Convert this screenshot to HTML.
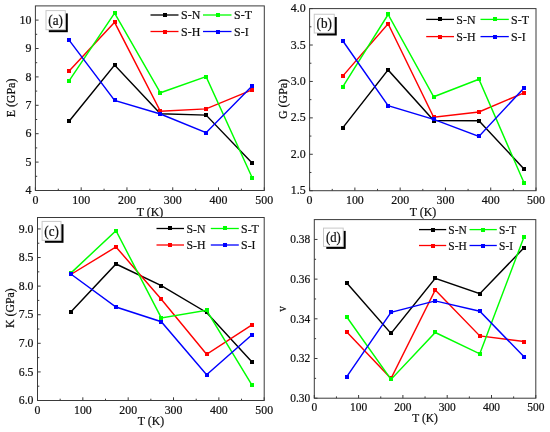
<!DOCTYPE html>
<html><head><meta charset="utf-8"><style>
html,body{margin:0;padding:0;background:#fff;}
svg{display:block;will-change:transform;filter:blur(0.3px);}
text{font-family:"Liberation Serif", serif;font-size:12.3px;fill:#111;stroke:#111;stroke-width:0.22px;}
</style></head><body>
<svg width="550" height="432" viewBox="0 0 550 432">
<rect width="550" height="432" fill="#fff"/>
<rect x="35.4" y="5.9" width="228.9" height="184.6" fill="none" stroke="#3a3a3a" stroke-width="1.0"/>
<path d="M35.4 190.5v-3.2 M81.18 190.5v-3.2 M126.96 190.5v-3.2 M172.74 190.5v-3.2 M218.52 190.5v-3.2 M264.3 190.5v-3.2 M58.29 190.5v-1.8 M104.07 190.5v-1.8 M149.85 190.5v-1.8 M195.63 190.5v-1.8 M241.41 190.5v-1.8 M35.4 190.5h3.2 M35.4 162.1h3.2 M35.4 133.7h3.2 M35.4 105.3h3.2 M35.4 76.9h3.2 M35.4 48.5h3.2 M35.4 20.1h3.2 M35.4 176.3h1.8 M35.4 147.9h1.8 M35.4 119.5h1.8 M35.4 91.1h1.8 M35.4 62.7h1.8 M35.4 34.3h1.8" stroke="#3a3a3a" stroke-width="1" fill="none"/>
<text transform="translate(35.4 204) scale(0.97 1)" text-anchor="middle">0</text>
<text transform="translate(81.18 204) scale(0.97 1)" text-anchor="middle">100</text>
<text transform="translate(126.96 204) scale(0.97 1)" text-anchor="middle">200</text>
<text transform="translate(172.74 204) scale(0.97 1)" text-anchor="middle">300</text>
<text transform="translate(218.52 204) scale(0.97 1)" text-anchor="middle">400</text>
<text transform="translate(264.3 204) scale(0.97 1)" text-anchor="middle">500</text>
<text transform="translate(31.4 194.25) scale(0.97 1)" text-anchor="end">4</text>
<text transform="translate(31.4 165.85) scale(0.97 1)" text-anchor="end">5</text>
<text transform="translate(31.4 137.45) scale(0.97 1)" text-anchor="end">6</text>
<text transform="translate(31.4 109.05) scale(0.97 1)" text-anchor="end">7</text>
<text transform="translate(31.4 80.65) scale(0.97 1)" text-anchor="end">8</text>
<text transform="translate(31.4 52.25) scale(0.97 1)" text-anchor="end">9</text>
<text transform="translate(31.4 23.85) scale(0.97 1)" text-anchor="end">10</text>
<text transform="translate(150 215.5) scale(0.97 1)" text-anchor="middle">T (K)</text>
<text transform="translate(15 98) rotate(-90) scale(0.97 1)" text-anchor="middle">E (GPa)</text>
<polyline points="68.9,121.45 114.6,65 160.4,113.8 206.1,115.1 252.1,163.1" fill="none" stroke="#000000" stroke-width="1.45" stroke-linejoin="miter"/>
<rect x="67" y="119" width="4" height="4" fill="#000000"/>
<rect x="113" y="63" width="4" height="4" fill="#000000"/>
<rect x="158" y="112" width="4" height="4" fill="#000000"/>
<rect x="204" y="113" width="4" height="4" fill="#000000"/>
<rect x="250" y="161" width="4" height="4" fill="#000000"/>
<polyline points="68.9,71.35 114.6,22.3 160.4,111.3 206.1,108.85 252.1,89.9" fill="none" stroke="#ff0000" stroke-width="1.45" stroke-linejoin="miter"/>
<rect x="67" y="69" width="4" height="4" fill="#ff0000"/>
<rect x="113" y="20" width="4" height="4" fill="#ff0000"/>
<rect x="158" y="109" width="4" height="4" fill="#ff0000"/>
<rect x="204" y="107" width="4" height="4" fill="#ff0000"/>
<rect x="250" y="88" width="4" height="4" fill="#ff0000"/>
<polyline points="68.9,81.1 114.6,13.2 160.4,92.75 206.1,76.6 252.1,177.55" fill="none" stroke="#00ff00" stroke-width="1.45" stroke-linejoin="miter"/>
<rect x="67" y="79" width="4" height="4" fill="#00ff00"/>
<rect x="113" y="11" width="4" height="4" fill="#00ff00"/>
<rect x="158" y="91" width="4" height="4" fill="#00ff00"/>
<rect x="204" y="75" width="4" height="4" fill="#00ff00"/>
<rect x="250" y="176" width="4" height="4" fill="#00ff00"/>
<polyline points="68.9,39.85 114.6,100.45 160.4,114 206.1,132.75 252.1,85.9" fill="none" stroke="#0000ff" stroke-width="1.45" stroke-linejoin="miter"/>
<rect x="67" y="38" width="4" height="4" fill="#0000ff"/>
<rect x="113" y="98" width="4" height="4" fill="#0000ff"/>
<rect x="158" y="112" width="4" height="4" fill="#0000ff"/>
<rect x="204" y="131" width="4" height="4" fill="#0000ff"/>
<rect x="250" y="84" width="4" height="4" fill="#0000ff"/>
<path d="M150.5 15H178.5" stroke="#000000" stroke-width="1.3"/>
<rect x="163" y="13" width="4" height="4" fill="#000000"/>
<text transform="translate(181.1 19.2) scale(0.97 1)">S-N</text>
<path d="M203 15H231.5" stroke="#00ff00" stroke-width="1.3"/>
<rect x="216" y="13" width="4" height="4" fill="#00ff00"/>
<text transform="translate(234.1 19.2) scale(0.97 1)">S-T</text>
<path d="M150.5 31.5H178.5" stroke="#ff0000" stroke-width="1.3"/>
<rect x="163" y="30" width="4" height="4" fill="#ff0000"/>
<text transform="translate(181.1 35.7) scale(0.97 1)">S-H</text>
<path d="M203 31.5H231.5" stroke="#0000ff" stroke-width="1.3"/>
<rect x="216" y="30" width="4" height="4" fill="#0000ff"/>
<text transform="translate(234.1 35.7) scale(0.97 1)">S-I</text>
<rect x="48.8" y="13.4" width="19" height="18.8" fill="#000"/>
<rect x="46" y="10.6" width="19.3" height="19.1" fill="#fff" stroke="#c8c8c8" stroke-width="1"/>
<text transform="translate(55.65 25.1) scale(0.97 1)" text-anchor="middle" style="font-size:13.6px">(a)</text>
<rect x="309.6" y="8.6" width="226.4" height="182.1" fill="none" stroke="#3a3a3a" stroke-width="1.0"/>
<path d="M309.6 190.7v-3.2 M354.88 190.7v-3.2 M400.16 190.7v-3.2 M445.44 190.7v-3.2 M490.72 190.7v-3.2 M536 190.7v-3.2 M332.24 190.7v-1.8 M377.52 190.7v-1.8 M422.8 190.7v-1.8 M468.08 190.7v-1.8 M513.36 190.7v-1.8 M309.6 190.7h3.2 M309.6 154.28h3.2 M309.6 117.86h3.2 M309.6 81.44h3.2 M309.6 45.02h3.2 M309.6 8.6h3.2 M309.6 172.49h1.8 M309.6 136.07h1.8 M309.6 99.65h1.8 M309.6 63.23h1.8 M309.6 26.81h1.8" stroke="#3a3a3a" stroke-width="1" fill="none"/>
<text transform="translate(309.6 203.9) scale(0.97 1)" text-anchor="middle">0</text>
<text transform="translate(354.88 203.9) scale(0.97 1)" text-anchor="middle">100</text>
<text transform="translate(400.16 203.9) scale(0.97 1)" text-anchor="middle">200</text>
<text transform="translate(445.44 203.9) scale(0.97 1)" text-anchor="middle">300</text>
<text transform="translate(490.72 203.9) scale(0.97 1)" text-anchor="middle">400</text>
<text transform="translate(536 203.9) scale(0.97 1)" text-anchor="middle">500</text>
<text transform="translate(305.6 194.3) scale(0.97 1)" text-anchor="end">1.5</text>
<text transform="translate(305.6 157.88) scale(0.97 1)" text-anchor="end">2.0</text>
<text transform="translate(305.6 121.46) scale(0.97 1)" text-anchor="end">2.5</text>
<text transform="translate(305.6 85.04) scale(0.97 1)" text-anchor="end">3.0</text>
<text transform="translate(305.6 48.62) scale(0.97 1)" text-anchor="end">3.5</text>
<text transform="translate(305.6 12.2) scale(0.97 1)" text-anchor="end">4.0</text>
<text transform="translate(423 215.5) scale(0.97 1)" text-anchor="middle">T (K)</text>
<text transform="translate(287 99) rotate(-90) scale(0.97 1)" text-anchor="middle">G (GPa)</text>
<polyline points="342.9,127.6 388.1,69.9 433.7,120.6 478.9,120.8 524,169" fill="none" stroke="#000000" stroke-width="1.45" stroke-linejoin="miter"/>
<rect x="341" y="126" width="4" height="4" fill="#000000"/>
<rect x="386" y="68" width="4" height="4" fill="#000000"/>
<rect x="432" y="119" width="4" height="4" fill="#000000"/>
<rect x="477" y="119" width="4" height="4" fill="#000000"/>
<rect x="522" y="167" width="4" height="4" fill="#000000"/>
<polyline points="342.9,75.9 388.1,23.7 433.7,117.3 478.9,112 524,92.8" fill="none" stroke="#ff0000" stroke-width="1.45" stroke-linejoin="miter"/>
<rect x="341" y="74" width="4" height="4" fill="#ff0000"/>
<rect x="386" y="22" width="4" height="4" fill="#ff0000"/>
<rect x="432" y="115" width="4" height="4" fill="#ff0000"/>
<rect x="477" y="110" width="4" height="4" fill="#ff0000"/>
<rect x="522" y="91" width="4" height="4" fill="#ff0000"/>
<polyline points="342.9,86.7 388.1,14.5 433.7,96.8 478.9,79.25 524,182.7" fill="none" stroke="#00ff00" stroke-width="1.45" stroke-linejoin="miter"/>
<rect x="341" y="85" width="4" height="4" fill="#00ff00"/>
<rect x="386" y="12" width="4" height="4" fill="#00ff00"/>
<rect x="432" y="95" width="4" height="4" fill="#00ff00"/>
<rect x="477" y="77" width="4" height="4" fill="#00ff00"/>
<rect x="522" y="181" width="4" height="4" fill="#00ff00"/>
<polyline points="342.9,41 388.1,105.6 433.7,119.4 478.9,136.5 524,87.95" fill="none" stroke="#0000ff" stroke-width="1.45" stroke-linejoin="miter"/>
<rect x="341" y="39" width="4" height="4" fill="#0000ff"/>
<rect x="386" y="104" width="4" height="4" fill="#0000ff"/>
<rect x="432" y="117" width="4" height="4" fill="#0000ff"/>
<rect x="477" y="134" width="4" height="4" fill="#0000ff"/>
<rect x="522" y="86" width="4" height="4" fill="#0000ff"/>
<path d="M426.2 19.4H454" stroke="#000000" stroke-width="1.3"/>
<rect x="438" y="17" width="4" height="4" fill="#000000"/>
<text transform="translate(456.3 23.6) scale(0.97 1)">S-N</text>
<path d="M480.5 19.4H508.8" stroke="#00ff00" stroke-width="1.3"/>
<rect x="493" y="17" width="4" height="4" fill="#00ff00"/>
<text transform="translate(511.1 23.6) scale(0.97 1)">S-T</text>
<path d="M426.2 36.6H454" stroke="#ff0000" stroke-width="1.3"/>
<rect x="438" y="35" width="4" height="4" fill="#ff0000"/>
<text transform="translate(456.3 40.8) scale(0.97 1)">S-H</text>
<path d="M480.5 36.6H508.8" stroke="#0000ff" stroke-width="1.3"/>
<rect x="493" y="35" width="4" height="4" fill="#0000ff"/>
<text transform="translate(511.1 40.8) scale(0.97 1)">S-I</text>
<rect x="317.05" y="17.05" width="19.7" height="18.45" fill="#000"/>
<rect x="314.25" y="14.25" width="20" height="18.75" fill="#fff" stroke="#c8c8c8" stroke-width="1"/>
<text transform="translate(324.25 28.4) scale(0.97 1)" text-anchor="middle" style="font-size:13.6px">(b)</text>
<rect x="0" y="217" width="275" height="215" fill="#fff"/>
<rect x="37.5" y="217.5" width="226.7" height="183" fill="none" stroke="#3a3a3a" stroke-width="1.0"/>
<path d="M37.5 400.5v-3.2 M82.84 400.5v-3.2 M128.18 400.5v-3.2 M173.52 400.5v-3.2 M218.86 400.5v-3.2 M264.2 400.5v-3.2 M60.17 400.5v-1.8 M105.51 400.5v-1.8 M150.85 400.5v-1.8 M196.19 400.5v-1.8 M241.53 400.5v-1.8 M37.5 400.5h3.2 M37.5 371.91h3.2 M37.5 343.31h3.2 M37.5 314.72h3.2 M37.5 286.12h3.2 M37.5 257.53h3.2 M37.5 228.94h3.2 M37.5 386.2h1.8 M37.5 357.61h1.8 M37.5 329.02h1.8 M37.5 300.42h1.8 M37.5 271.83h1.8 M37.5 243.23h1.8" stroke="#3a3a3a" stroke-width="1" fill="none"/>
<text transform="translate(37.5 413.6) scale(0.96 1)" text-anchor="middle">0</text>
<text transform="translate(82.84 413.6) scale(0.96 1)" text-anchor="middle">100</text>
<text transform="translate(128.18 413.6) scale(0.96 1)" text-anchor="middle">200</text>
<text transform="translate(173.52 413.6) scale(0.96 1)" text-anchor="middle">300</text>
<text transform="translate(218.86 413.6) scale(0.96 1)" text-anchor="middle">400</text>
<text transform="translate(264.2 413.6) scale(0.96 1)" text-anchor="middle">500</text>
<text transform="translate(33.5 404.25) scale(0.96 1)" text-anchor="end">6.0</text>
<text transform="translate(33.5 375.66) scale(0.96 1)" text-anchor="end">6.5</text>
<text transform="translate(33.5 347.06) scale(0.96 1)" text-anchor="end">7.0</text>
<text transform="translate(33.5 318.47) scale(0.96 1)" text-anchor="end">7.5</text>
<text transform="translate(33.5 289.88) scale(0.96 1)" text-anchor="end">8.0</text>
<text transform="translate(33.5 261.28) scale(0.96 1)" text-anchor="end">8.5</text>
<text transform="translate(33.5 232.69) scale(0.96 1)" text-anchor="end">9.0</text>
<text transform="translate(151 425) scale(0.96 1)" text-anchor="middle">T (K)</text>
<text transform="translate(14 308.2) rotate(-90) scale(0.96 1)" text-anchor="middle">K (GPa)</text>
<polyline points="70.8,311.9 116,264 161.3,285.7 206.6,312.5 252,362" fill="none" stroke="#000000" stroke-width="1.45" stroke-linejoin="miter"/>
<rect x="69" y="310" width="4" height="4" fill="#000000"/>
<rect x="114" y="262" width="4" height="4" fill="#000000"/>
<rect x="159" y="284" width="4" height="4" fill="#000000"/>
<rect x="205" y="310" width="4" height="4" fill="#000000"/>
<rect x="250" y="360" width="4" height="4" fill="#000000"/>
<polyline points="70.8,274.5 116,246.95 161.3,299.2 206.6,354.25 252,324.9" fill="none" stroke="#ff0000" stroke-width="1.45" stroke-linejoin="miter"/>
<rect x="69" y="272" width="4" height="4" fill="#ff0000"/>
<rect x="114" y="245" width="4" height="4" fill="#ff0000"/>
<rect x="159" y="297" width="4" height="4" fill="#ff0000"/>
<rect x="205" y="352" width="4" height="4" fill="#ff0000"/>
<rect x="250" y="323" width="4" height="4" fill="#ff0000"/>
<polyline points="70.8,273.1 116,230.65 161.3,317.9 206.6,310.4 252,385.2" fill="none" stroke="#00ff00" stroke-width="1.45" stroke-linejoin="miter"/>
<rect x="69" y="271" width="4" height="4" fill="#00ff00"/>
<rect x="114" y="229" width="4" height="4" fill="#00ff00"/>
<rect x="159" y="316" width="4" height="4" fill="#00ff00"/>
<rect x="205" y="308" width="4" height="4" fill="#00ff00"/>
<rect x="250" y="383" width="4" height="4" fill="#00ff00"/>
<polyline points="70.8,274 116,307 161.3,321.7 206.6,374.7 252,334.7" fill="none" stroke="#0000ff" stroke-width="1.45" stroke-linejoin="miter"/>
<rect x="69" y="272" width="4" height="4" fill="#0000ff"/>
<rect x="114" y="305" width="4" height="4" fill="#0000ff"/>
<rect x="159" y="320" width="4" height="4" fill="#0000ff"/>
<rect x="205" y="373" width="4" height="4" fill="#0000ff"/>
<rect x="250" y="333" width="4" height="4" fill="#0000ff"/>
<path d="M156.5 228.5H184" stroke="#000000" stroke-width="1.3"/>
<rect x="168" y="226" width="4" height="4" fill="#000000"/>
<text transform="translate(186.5 232.7) scale(0.96 1)">S-N</text>
<path d="M210.8 228.5H238.8" stroke="#00ff00" stroke-width="1.3"/>
<rect x="223" y="226" width="4" height="4" fill="#00ff00"/>
<text transform="translate(241.1 232.7) scale(0.96 1)">S-T</text>
<path d="M156.5 245H184" stroke="#ff0000" stroke-width="1.3"/>
<rect x="168" y="243" width="4" height="4" fill="#ff0000"/>
<text transform="translate(186.5 249.2) scale(0.96 1)">S-H</text>
<path d="M210.8 245H238.8" stroke="#0000ff" stroke-width="1.3"/>
<rect x="223" y="243" width="4" height="4" fill="#0000ff"/>
<text transform="translate(241.1 249.2) scale(0.96 1)">S-I</text>
<rect x="44.9" y="224.2" width="18.6" height="18.6" fill="#000"/>
<rect x="42.1" y="221.4" width="18.9" height="18.9" fill="#fff" stroke="#c8c8c8" stroke-width="1"/>
<text transform="translate(51.55 235.7) scale(0.96 1)" text-anchor="middle" style="font-size:13.6px">(c)</text>
<rect x="314.3" y="219.6" width="221.5" height="178.6" fill="none" stroke="#3a3a3a" stroke-width="1.0"/>
<path d="M314.3 398.2v-3.2 M358.6 398.2v-3.2 M402.9 398.2v-3.2 M447.2 398.2v-3.2 M491.5 398.2v-3.2 M535.8 398.2v-3.2 M336.45 398.2v-1.8 M380.75 398.2v-1.8 M425.05 398.2v-1.8 M469.35 398.2v-1.8 M513.65 398.2v-1.8 M314.3 398.2h3.2 M314.3 358.51h3.2 M314.3 318.82h3.2 M314.3 279.13h3.2 M314.3 239.44h3.2 M314.3 378.36h1.8 M314.3 338.67h1.8 M314.3 298.98h1.8 M314.3 259.29h1.8" stroke="#3a3a3a" stroke-width="1" fill="none"/>
<text transform="translate(314.3 411.3) scale(0.93 1)" text-anchor="middle">0</text>
<text transform="translate(358.6 411.3) scale(0.93 1)" text-anchor="middle">100</text>
<text transform="translate(402.9 411.3) scale(0.93 1)" text-anchor="middle">200</text>
<text transform="translate(447.2 411.3) scale(0.93 1)" text-anchor="middle">300</text>
<text transform="translate(491.5 411.3) scale(0.93 1)" text-anchor="middle">400</text>
<text transform="translate(535.8 411.3) scale(0.93 1)" text-anchor="middle">500</text>
<text transform="translate(310.3 401.95) scale(0.93 1)" text-anchor="end">0.30</text>
<text transform="translate(310.3 362.26) scale(0.93 1)" text-anchor="end">0.32</text>
<text transform="translate(310.3 322.57) scale(0.93 1)" text-anchor="end">0.34</text>
<text transform="translate(310.3 282.88) scale(0.93 1)" text-anchor="end">0.36</text>
<text transform="translate(310.3 243.19) scale(0.93 1)" text-anchor="end">0.38</text>
<text transform="translate(425 422) scale(0.93 1)" text-anchor="middle">T (K)</text>
<text transform="translate(285.8 309) rotate(-90) scale(0.93 1)" text-anchor="middle">v</text>
<polyline points="346.8,283 391,333.4 435.25,278.25 479.8,293.75 524,247.8" fill="none" stroke="#000000" stroke-width="1.45" stroke-linejoin="miter"/>
<rect x="345" y="281" width="4" height="4" fill="#000000"/>
<rect x="389" y="331" width="4" height="4" fill="#000000"/>
<rect x="433" y="276" width="4" height="4" fill="#000000"/>
<rect x="478" y="292" width="4" height="4" fill="#000000"/>
<rect x="522" y="246" width="4" height="4" fill="#000000"/>
<polyline points="346.8,332 391,378.5 435.25,290.05 479.8,335.9 524,341.5" fill="none" stroke="#ff0000" stroke-width="1.45" stroke-linejoin="miter"/>
<rect x="345" y="330" width="4" height="4" fill="#ff0000"/>
<rect x="389" y="376" width="4" height="4" fill="#ff0000"/>
<rect x="433" y="288" width="4" height="4" fill="#ff0000"/>
<rect x="478" y="334" width="4" height="4" fill="#ff0000"/>
<rect x="522" y="340" width="4" height="4" fill="#ff0000"/>
<polyline points="346.8,317 391,379.4 435.25,332.5 479.8,353.8 524,236.95" fill="none" stroke="#00ff00" stroke-width="1.45" stroke-linejoin="miter"/>
<rect x="345" y="315" width="4" height="4" fill="#00ff00"/>
<rect x="389" y="377" width="4" height="4" fill="#00ff00"/>
<rect x="433" y="330" width="4" height="4" fill="#00ff00"/>
<rect x="478" y="352" width="4" height="4" fill="#00ff00"/>
<rect x="522" y="235" width="4" height="4" fill="#00ff00"/>
<polyline points="346.8,376.6 391,312.4 435.25,300.9 479.8,311.2 524,356.8" fill="none" stroke="#0000ff" stroke-width="1.45" stroke-linejoin="miter"/>
<rect x="345" y="375" width="4" height="4" fill="#0000ff"/>
<rect x="389" y="310" width="4" height="4" fill="#0000ff"/>
<rect x="433" y="299" width="4" height="4" fill="#0000ff"/>
<rect x="478" y="309" width="4" height="4" fill="#0000ff"/>
<rect x="522" y="355" width="4" height="4" fill="#0000ff"/>
<path d="M419 229.6H446.2" stroke="#000000" stroke-width="1.3"/>
<rect x="431" y="228" width="4" height="4" fill="#000000"/>
<text transform="translate(448.3 233.8) scale(0.93 1)">S-N</text>
<path d="M469.5 229.6H496.8" stroke="#00ff00" stroke-width="1.3"/>
<rect x="481" y="228" width="4" height="4" fill="#00ff00"/>
<text transform="translate(499.1 233.8) scale(0.93 1)">S-T</text>
<path d="M419 245.5H446.2" stroke="#ff0000" stroke-width="1.3"/>
<rect x="431" y="244" width="4" height="4" fill="#ff0000"/>
<text transform="translate(448.3 249.7) scale(0.93 1)">S-H</text>
<path d="M469.5 245.5H496.8" stroke="#0000ff" stroke-width="1.3"/>
<rect x="481" y="244" width="4" height="4" fill="#0000ff"/>
<text transform="translate(499.1 249.7) scale(0.93 1)">S-I</text>
<rect x="326.3" y="230.9" width="19.4" height="18" fill="#000"/>
<rect x="323.5" y="228.1" width="19.7" height="18.3" fill="#fff" stroke="#c8c8c8" stroke-width="1"/>
<text transform="translate(333.35 241.8) scale(0.93 1)" text-anchor="middle" style="font-size:13.6px">(d)</text>
</svg>
</body></html>
